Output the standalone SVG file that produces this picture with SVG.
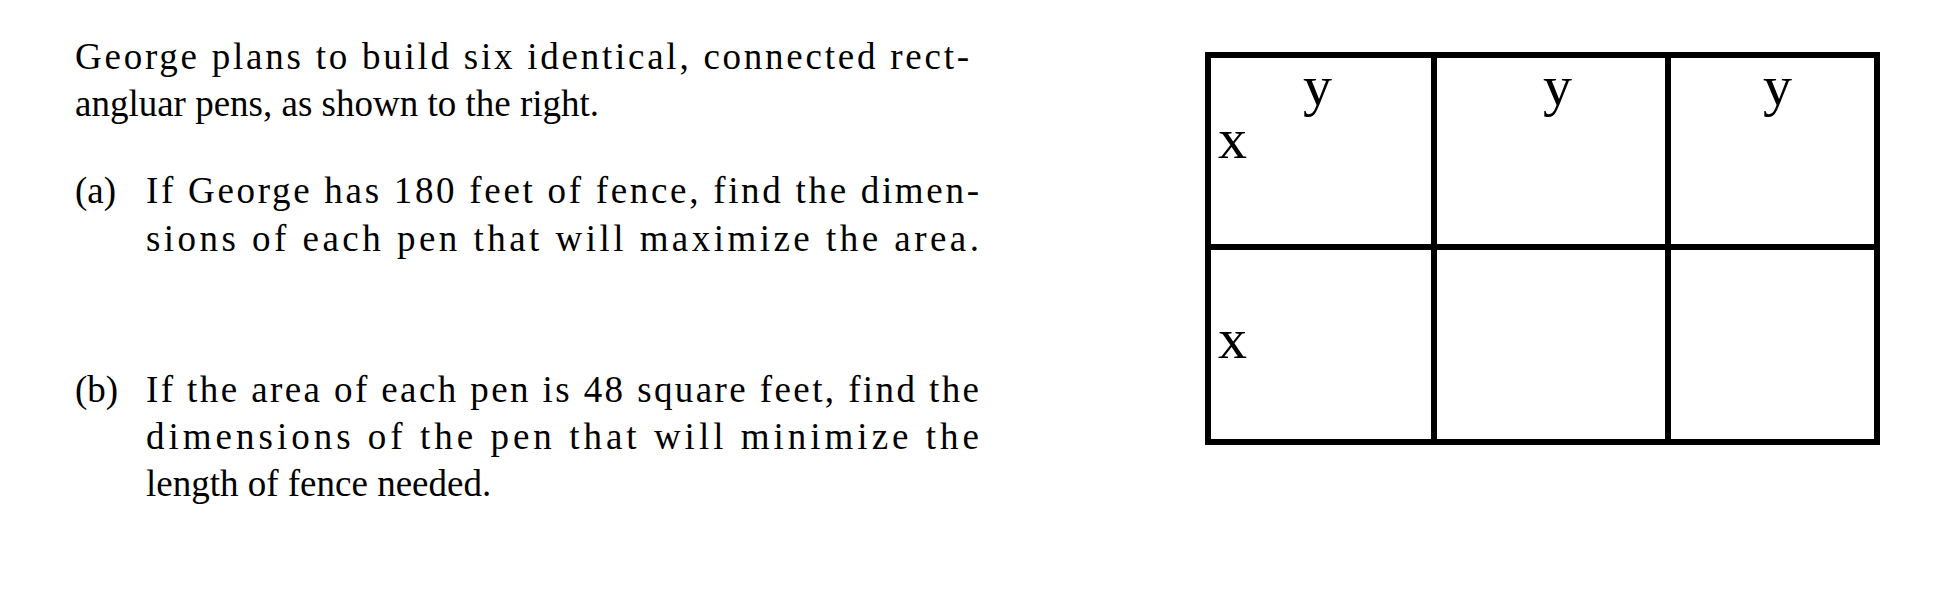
<svg xmlns="http://www.w3.org/2000/svg" width="1956" height="592" viewBox="0 0 1956 592">
<style>
.t{font-family:"Liberation Serif","DejaVu Serif",serif;font-size:37px;fill:#000}
.l{font-family:"Liberation Serif","DejaVu Serif",serif;font-size:58px;fill:#000}
.g{stroke:#000;stroke-width:6;fill:none}
</style>
<rect width="1956" height="592" fill="#fff"/>
<g id="text">
<text class="t" x="75" y="69" textLength="894" lengthAdjust="spacing">George plans to build six identical, connected rect-</text>
<text class="t" x="75" y="116">angluar pens, as shown to the right.</text>
<text class="t" x="75" y="203">(a)</text>
<text class="t" x="146" y="203" textLength="833" lengthAdjust="spacing">If George has 180 feet of fence, find the dimen-</text>
<text class="t" x="146" y="251" textLength="833" lengthAdjust="spacing">sions of each pen that will maximize the area.</text>
<text class="t" x="75" y="402">(b)</text>
<text class="t" x="146" y="402" textLength="833" lengthAdjust="spacing">If the area of each pen is 48 square feet, find the</text>
<text class="t" x="146" y="449" textLength="833" lengthAdjust="spacing">dimensions of the pen that will minimize the</text>
<text class="t" x="146" y="496">length of fence needed.</text>
</g>
<g id="grid">
<rect class="g" x="1208" y="55" width="669" height="387"/>
<line class="g" x1="1434" y1="55" x2="1434" y2="442"/>
<line class="g" x1="1668" y1="55" x2="1668" y2="442"/>
<line class="g" x1="1208" y1="247" x2="1877" y2="247"/>
</g>
<g id="labels">
<text class="l" x="1303" y="105">y</text>
<text class="l" x="1543" y="105">y</text>
<text class="l" x="1763" y="105">y</text>
<text class="l" x="1218" y="158">x</text>
<text class="l" x="1218" y="358">x</text>
</g>
</svg>
